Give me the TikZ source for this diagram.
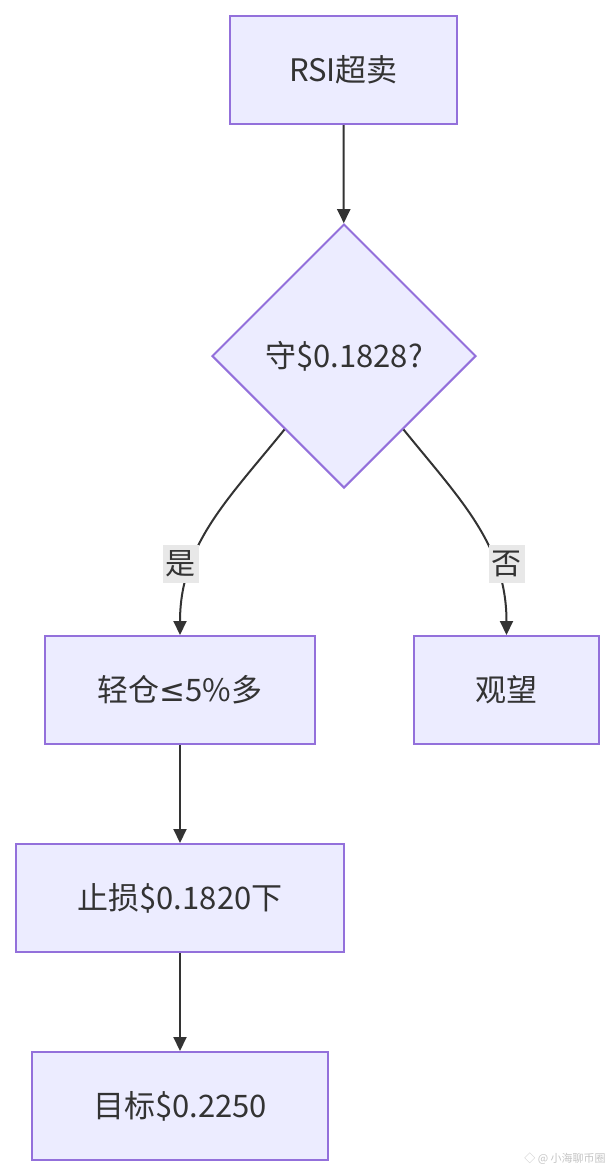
\documentclass[tikz,border=0pt]{standalone}
\usepackage{fontspec}
\setmainfont{Noto Sans CJK SC}
\newfontfamily\symfont{DejaVu Sans}
\usetikzlibrary{arrows.meta, positioning, shapes.geometric}
\definecolor{cfill}{HTML}{ECECFF}
\definecolor{cedge}{HTML}{9370DB}
\definecolor{ctext}{HTML}{333333}
\definecolor{clabel}{HTML}{E8E8E8}
\definecolor{cmark}{HTML}{C4C4C4}
\tikzset{
  every picture/.style={line width=2pt},
  box/.style={draw=cedge, fill=cfill, text=ctext, minimum height=108pt, inner sep=0pt,
    font=\fontsize{31pt}{34pt}\selectfont},
  choice/.style={box, diamond, aspect=1, minimum width=264pt, minimum height=264pt},
  arrow/.style={-{Triangle[length=14pt, width=13pt]}, draw=ctext, line width=2pt},
  lbl/.style={fill=clabel, text=ctext, inner xsep=3pt, inner ysep=6pt, font=\fontsize{30pt}{33pt}\selectfont},
}

\begin{document}
\begin{tikzpicture}[x=1pt, y=-1pt]
  \useasboundingbox (0,0) rectangle (614,1176);
  % main column
  \node[box, minimum width=227pt] (rsi) at (343.5,70) {RSI超卖};
  \node[choice] (guard) at (344,356) {守\$0.1828?};
  \node[box, minimum width=270pt] (light) at (180,690) {轻仓{\symfont ≤}5\%多};
  \node[box, minimum width=185pt] (wait) at (506.5,690) {观望};
  \node[box, minimum width=328pt] (stop) at (180,898) {止损\$0.1820下};
  \node[box, minimum width=296pt] (target) at (180,1106) {目标\$0.2250};
  % connectors
  \draw[arrow] (rsi) -- (guard);
  \draw[arrow] (guard.-129) to[out=-129, in=90] node[lbl, pos=0.7, xshift=-11pt] {是} (light.north);
  \draw[arrow] (guard.-51) to[out=-51, in=90] node[lbl, pos=0.7, xshift=12pt] {否} (wait.north);
  \draw[arrow] (light) -- (stop);
  \draw[arrow] (stop) -- (target);
  % watermark
  \node[text=cmark, font=\fontsize{11pt}{13pt}\selectfont, anchor=east] (mark) at (610,1159) {◇ @ 小海聊币圈};
\end{tikzpicture}
\end{document}
